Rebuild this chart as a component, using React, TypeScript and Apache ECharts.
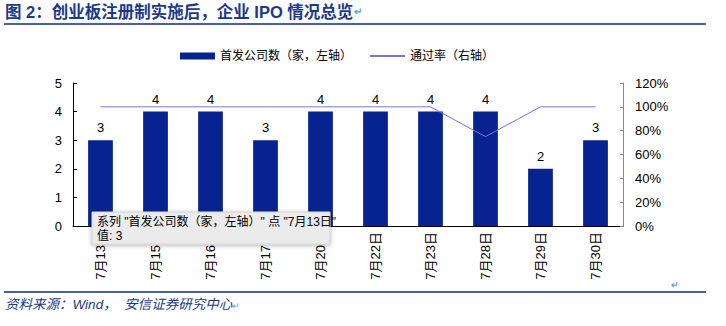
import React, { useEffect, useRef } from "react";
import * as echarts from "echarts";

const categories = ["7月13日", "7月15日", "7月16日", "7月17日", "7月20日", "7月22日", "7月23日", "7月28日", "7月29日", "7月30日"];
const ipoCounts = [3, 4, 4, 3, 4, 4, 4, 4, 2, 3];
const passRates = [1, 1, 1, 1, 1, 1, 1, 0.75, 1, 1];
const barName = "首发公司数（家，左轴）";
const lineName = "通过率（右轴）";
const titleText = "图 2：创业板注册制实施后，企业 IPO 情况总览";
const sourceText = "资料来源：Wind，  安信证券研究中心";
const tooltipLine1 = "系列 \"首发公司数（家，左轴）\" 点 \"7月13日\"";
const tooltipLine2 = "值: 3";

const FONT = "'Liberation Sans', Arial, 'Noto Sans CJK SC', sans-serif";
const DARK_BLUE = "#0b2a8c";

export default function App() {
  const ref = useRef<HTMLDivElement>(null);
  useEffect(() => {
    if (!ref.current) return;
    const chart = echarts.init(ref.current, null, { renderer: "svg" });
    chart.setOption({
      animation: false,
      textStyle: { fontFamily: FONT },
      legend: {
        left: 175,
        top: 45,
        itemWidth: 35,
        itemHeight: 7,
        itemGap: 17,
        textStyle: { fontSize: 12, color: "#000", fontFamily: FONT },
        data: [
          { name: barName, icon: "rect" },
          { name: lineName, itemStyle: { opacity: 0 } },
        ],
      },
      grid: { left: 73, right: 103, top: 83, bottom: 100, containLabel: false },
      xAxis: {
        type: "category",
        data: categories,
        axisLine: { lineStyle: { color: "#000", width: 1 } },
        axisTick: { inside: true, length: 4, alignWithLabel: false, lineStyle: { color: "#000" } },
        axisLabel: { rotate: 90, fontSize: 13, color: "#000", margin: 6, fontFamily: FONT },
      },
      yAxis: [
        {
          type: "value",
          min: 0,
          max: 5,
          interval: 1,
          axisLine: { show: true, lineStyle: { color: "#000" } },
          axisTick: { show: true, inside: true, length: 4, lineStyle: { color: "#000" } },
          axisLabel: { fontSize: 13, color: "#000", margin: 11, fontFamily: FONT },
          splitLine: { show: false },
        },
        {
          type: "value",
          min: 0,
          max: 1.2,
          interval: 0.2,
          position: "right",
          axisLine: { show: true, lineStyle: { color: "#888" } },
          axisTick: { show: true, inside: true, length: 3, lineStyle: { color: "#888" } },
          axisLabel: {
            fontSize: 13,
            color: "#000",
            margin: 12,
            fontFamily: FONT,
            formatter: (v: number) => `${Math.round(v * 100)}%`,
          },
          splitLine: { show: false },
        },
      ],
      series: [
        {
          name: barName,
          type: "bar",
          data: ipoCounts,
          barWidth: "45%",
          itemStyle: { color: "#06238f" },
          label: { show: true, position: "top", fontSize: 13, color: "#000", distance: 6, fontFamily: FONT },
        },
        {
          name: lineName,
          type: "line",
          yAxisIndex: 1,
          data: passRates,
          symbol: "none",
          lineStyle: { color: "#7474ee", width: 1 },
          itemStyle: { color: "#7474ee" },
        },
      ],
      graphic: [
        {
          type: "text",
          left: 5,
          top: 4,
          style: { text: titleText, font: `bold 16.5px ${FONT}`, fill: "#1b3a8c" },
        },
        {
          type: "text",
          left: 354,
          top: 6,
          style: { text: "↵", font: `bold 10px ${FONT}`, fill: "#5aa0e6" },
        },
        {
          type: "line",
          shape: { x1: 4, y1: 24, x2: 706, y2: 24 },
          style: { stroke: DARK_BLUE, lineWidth: 1.5 },
        },
        {
          type: "line",
          shape: { x1: 4, y1: 292, x2: 706, y2: 292 },
          style: { stroke: DARK_BLUE, lineWidth: 1.5 },
        },
        {
          type: "text",
          left: 671,
          top: 280,
          style: { text: "↵", font: `bold 9px ${FONT}`, fill: "#5aa0e6" },
        },
        {
          type: "text",
          left: 5,
          top: 298,
          style: { text: sourceText, font: `italic 13.5px ${FONT}`, fill: "#1b3a8c" },
        },
        {
          type: "text",
          left: 232,
          top: 301,
          style: { text: "↵", font: `9px ${FONT}`, fill: "#5aa0e6" },
        },
        {
          type: "rect",
          z: 1000,
          zlevel: 1,
          shape: { x: 92, y: 212, width: 238, height: 32 },
          style: {
            fill: "#ebebeb",
            stroke: "#d4d4d4",
            lineWidth: 1,
            shadowBlur: 4,
            shadowColor: "rgba(0,0,0,0.3)",
            shadowOffsetY: 1,
          },
        },
        {
          type: "text",
          z: 1001,
          zlevel: 1,
          x: 97,
          y: 216,
          style: { text: tooltipLine1, font: `12px ${FONT}`, fill: "#000" },
        },
        {
          type: "text",
          z: 1001,
          zlevel: 1,
          x: 97,
          y: 230,
          style: { text: tooltipLine2, font: `12px ${FONT}`, fill: "#000" },
        },
      ],
    });
    return () => chart.dispose();
  }, []);
  return <div ref={ref} style={{ width: 726, height: 326, position: "absolute", left: 0, top: 0 }} />;
}
